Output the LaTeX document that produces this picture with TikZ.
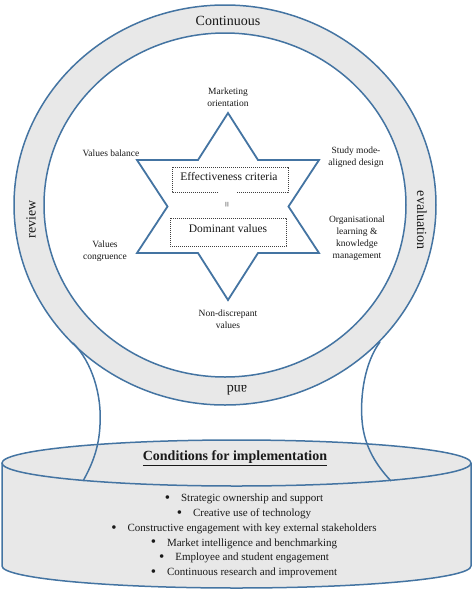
\documentclass[tikz,border=0pt]{standalone}
\usepackage{fontspec}
\setmainfont{Liberation Serif}
\definecolor{rb}{RGB}{68,116,162}
\definecolor{rf}{RGB}{232,232,232}
\definecolor{tx}{RGB}{25,25,25}
\newcommand{\bl}[1]{{\fontsize{15}{13}\selectfont\raisebox{-0.6pt}{\textbullet}}\hspace{11pt}#1}
\begin{document}
\begin{tikzpicture}[x=1pt,y=-1pt,
  edge/.style={draw=rb, line width=1.5pt},
  lbl/.style={font=\fontsize{9.5}{12}\selectfont, align=center, inner sep=0pt, text=tx},
  ringtxt/.style={font=\fontsize{14}{16}\selectfont, inner sep=0pt, text=tx},
  boxtxt/.style={font=\fontsize{11.5}{13}\selectfont, inner sep=0pt, text=tx},
  boxdash/.style={draw=black!75, line width=0.7pt, dash pattern=on 1.2pt off 0.8pt},
  bullettxt/.style={font=\fontsize{11}{13}\selectfont, inner sep=0pt, text=tx}]
\useasboundingbox (0,0) rectangle (474,598);
% ring
\filldraw[fill=rf, edge] (225,205) ellipse [x radius=211pt, y radius=200pt];
\filldraw[fill=white, edge] (225,205) ellipse [x radius=181pt, y radius=172pt];
% cylinder
\fill[rf] (2,463) -- (2,566) arc[start angle=180, end angle=360, x radius=234.5pt, y radius=22pt] -- (471,463) -- cycle;
\draw[edge] (2,463) -- (2,566) arc[start angle=180, end angle=360, x radius=234.5pt, y radius=22pt] -- (471,463);
\filldraw[fill=rf, edge] (236.5,463) ellipse [x radius=234.5pt, y radius=23pt];
% pedestal curves
\draw[edge] (73,343) .. controls (92,362) and (102,395) .. (100,425) .. controls (99,448) and (92,465) .. (83,481);
\draw[edge] (380,342) .. controls (365,362) and (360,395) .. (362,420) .. controls (364,448) and (378,467) .. (391,481);
% star
\draw[fill=white, draw=rb, line width=1.8pt, line join=miter]
  (228,113) -- (258,160) -- (319,160) -- (288.5,206.5) -- (319,253) -- (258,253) -- (228,300)
  -- (198,253) -- (137,253) -- (167.5,206.5) -- (137,160) -- (198,160) -- cycle;
% dashed boxes
\draw[boxdash] (218,192) -- (172,192) -- (172,167) -- (288,167) -- (288,192) -- (237,192);
\draw[boxdash] (170,218) rectangle (286,246);
\node[boxtxt] (eff) at (229,177) {Effectiveness criteria};
\node[boxtxt] (dom) at (228,229) {Dominant values};
\node[font=\fontsize{10}{10}\selectfont, rotate=90, inner sep=0pt, text=tx] (eq) at (228,205) {=};
% ring labels
\node[ringtxt] (cont) at (228,21) {Continuous};
\node[ringtxt, rotate=-90] (eval) at (422,220) {evaluation};
\node[ringtxt, rotate=180] (and) at (237,390) {and};
\node[ringtxt, rotate=90] (rev) at (31,219) {review};
% star labels
\node[lbl] (mkt) at (228,97) {Marketing\\orientation};
\node[lbl] (vb) at (111,153) {Values balance};
\node[lbl] (smd) at (356,157) {Study mode-\\aligned design};
\node[lbl] (olk) at (357,238) {Organisational\\learning \&\\knowledge\\management};
\node[lbl] (vc) at (105,251) {Values\\congruence};
\node[lbl] (ndv) at (228,319) {Non-discrepant\\values};
% cylinder text
\node[font=\bfseries\fontsize{14}{16}\selectfont, inner sep=0pt, text=tx] (cond) at (235,458) {\underline{Conditions for implementation}};
\node[bullettxt] (b1) at (244,499) {\bl{Strategic ownership and support}};
\node[bullettxt] (b2) at (244,514) {\bl{Creative use of technology}};
\node[bullettxt] (b3) at (244,529) {\bl{Constructive engagement with key external stakeholders}};
\node[bullettxt] (b4) at (244,543.5) {\bl{Market intelligence and benchmarking}};
\node[bullettxt] (b5) at (244,558) {\bl{Employee and student engagement}};
\node[bullettxt] (b6) at (244,573) {\bl{Continuous research and improvement}};
\end{tikzpicture}
\end{document}
